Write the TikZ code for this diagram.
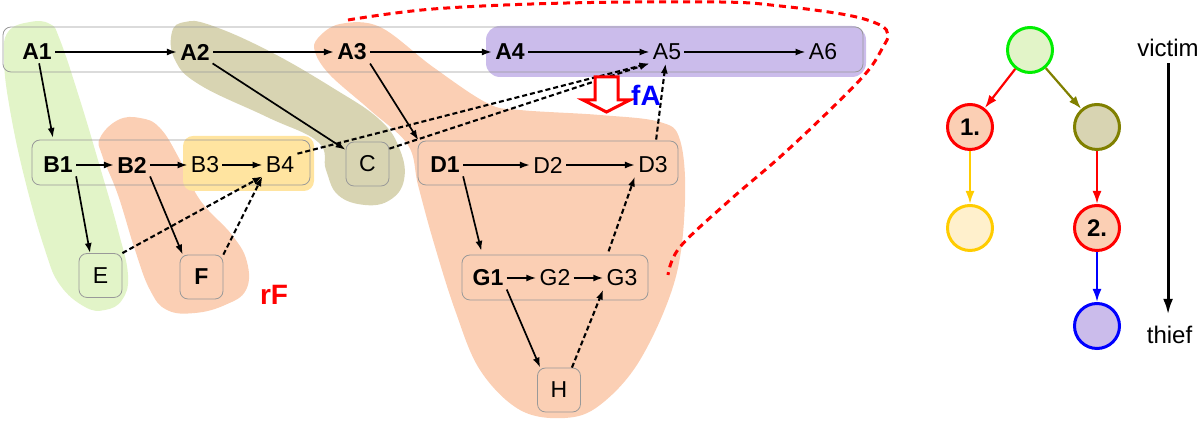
\documentclass[tikz,border=0pt]{standalone}
\usepackage{fontspec}
\setmainfont{Liberation Sans}
\usetikzlibrary{arrows.meta, positioning}

\definecolor{blobgreen}{HTML}{E2F4C8}
\definecolor{blobolive}{HTML}{D8D4B2}
\definecolor{blobsalmon}{HTML}{FBCFB4}
\definecolor{blobyellow}{HTML}{FFE4A0}
\definecolor{blobpurple}{HTML}{CBBCEB}
\definecolor{nodeyellow}{HTML}{FFF0CC}
\definecolor{strokegreen}{HTML}{00EE00}
\definecolor{strokeolive}{HTML}{808000}
\definecolor{strokeyellow}{HTML}{FFCC00}

\begin{document}
\begin{tikzpicture}[
    x=0.5pt, y=-0.5pt,
    lbl/.style={inner sep=1.5pt, font=\fontsize{11.5}{13}\selectfont},
    blbl/.style={lbl, font=\fontsize{11.5}{13}\selectfont\bfseries},
    rowbox/.style={draw=black!40, line width=0.4pt, rounded corners=4pt, inner sep=0pt},
    leafbox/.style={rowbox, minimum width=21.5pt, minimum height=22pt, font=\fontsize{11.5}{13}\selectfont},
    conn/.style={-{Latex[length=5pt,width=3.5pt]}, line width=0.85pt},
    dconn/.style={conn, line width=1.05pt, dash pattern=on 2.5pt off 1.5pt},
    tnode/.style={circle, line width=1.5pt, minimum size=22.5pt, inner sep=0pt, font=\fontsize{12}{14}\selectfont\bfseries},
    tconn/.style={-{Latex[length=6.5pt,width=4.5pt]}, line width=1.1pt},
    side/.style={inner sep=1.5pt, font=\fontsize{12}{14}\selectfont}
]
    \useasboundingbox (0,0) rectangle (1200,431);

    % Groups
    \fill[blobgreen] plot[smooth cycle, tension=0.7] coordinates {(8,32) (30,22) (50,24) (60,40) (80,100) (100,167) (118,230) (128,275) (122,300) (105,310) (85,307) (60,285) (45,250) (25,180) (10,110) (4,60)};
    \fill[blobolive] plot[smooth cycle, tension=0.7] coordinates {(172,32) (185,22) (210,25) (267,50) (333,88) (380,120) (400,150) (404,180) (390,200) (365,205) (338,195) (326,170) (318,142) (267,117) (200,85) (175,60)};
    \fill[blobsalmon] plot[smooth cycle, tension=0.7] coordinates {(100,138) (118,120) (140,118) (160,128) (180,160) (200,200) (232,235) (247,262) (246,290) (225,305) (195,313) (167,310) (150,290) (135,250) (118,195) (102,155)};
    \fill[blobsalmon] plot[smooth cycle, tension=0.6] coordinates {(318,38) (340,24) (380,27) (433,67) (487,103) (520,110) (600,115) (660,122) (680,140) (685,200) (675,280) (640,360) (600,405) (565,418) (520,410) (480,370) (455,310) (433,240) (418,185) (408,145) (370,110) (330,75) (315,52)};
    \fill[blobpurple, rounded corners=7pt] (486,26) rectangle (866,77);
    \fill[blobyellow, rounded corners=5pt] (183,136) rectangle (314,191);

    % Rows
    \node[rowbox, minimum width=430pt, minimum height=22.5pt] (rowA) at (433,49.5) {};
    \node[rowbox, minimum width=139pt, minimum height=22.5pt] (rowB) at (171,162.5) {};
    \node[rowbox, minimum width=130pt, minimum height=22pt] (rowD) at (548,163) {};
    \node[rowbox, minimum width=93pt, minimum height=22.5pt] (rowG) at (555,277.5) {};

    % Row A
    \node[blbl] (A1) at (37,52) {A1};
    \node[blbl] (A2) at (195,52) {A2};
    \node[blbl] (A3) at (352,52) {A3};
    \node[blbl] (A4) at (510,52) {A4};
    \node[lbl] (A5) at (667,52) {A5};
    \node[lbl] (A6) at (823,52) {A6};

    % Row B
    \node[blbl] (B1) at (58,165) {B1};
    \node[blbl] (B2) at (132,165) {B2};
    \node[lbl] (B3) at (205,165) {B3};
    \node[lbl] (B4) at (280,165) {B4};

    % Row D and G
    \node[blbl] (D1) at (445,165) {D1};
    \node[lbl] (D2) at (548,165) {D2};
    \node[lbl] (D3) at (653,165) {D3};
    \node[blbl] (G1) at (488,278) {G1};
    \node[lbl] (G2) at (555,278) {G2};
    \node[lbl] (G3) at (622,278) {G3};

    % Single boxes
    \node[leafbox] (C) at (367.5,164) {C};
    \node[leafbox] (E) at (100.5,275.5) {E};
    \node[leafbox, font=\fontsize{11.5}{13}\selectfont\bfseries] (F) at (201.5,277) {F};
    \node[leafbox] (H) at (559,390) {H};

    % Calls
    \draw[conn] (A1) -- (A2);
    \draw[conn] (A2) -- (A3);
    \draw[conn] (A3) -- (A4);
    \draw[conn] (A4) -- (A5);
    \draw[conn] (A5) -- (A6);
    \draw[conn, shorten >=8pt] (A1) -- (B1);
    \draw[conn] (A2) -- (C);
    \draw[conn, shorten >=8pt] (A3.south east) -- (D1.north west);
    \draw[conn] (B1) -- (B2);
    \draw[conn] (B2) -- (B3);
    \draw[conn] (B3) -- (B4);
    \draw[conn] (B1.south east) -- (E.115);
    \draw[conn] (B2.south east) -- (F.130);
    \draw[conn] (D1) -- (D2);
    \draw[conn] (D2) -- (D3);
    \draw[conn, shorten >=8pt] (D1.south east) -- (G1);
    \draw[conn] (G1) -- (G2);
    \draw[conn] (G2) -- (G3);
    \draw[conn] (G1.south east) -- (H.130);

    % Returns
    \draw[dconn] (E.north east) -- (B4.south west);
    \draw[dconn] (F.north east) -- (B4.south west);
    \draw[dconn] (B4.north east) -- (A5.south west);
    \draw[dconn] (C.35) -- (A5.south west);
    \draw[dconn, shorten <=7pt] (D3) -- (A5);
    \draw[dconn, shorten <=8pt] (G3.north west) -- (D3.south west);
    \draw[dconn] (H.60) -- (G3.south west);

    % Boundary
    \draw[red, line width=1.5pt, dash pattern=on 3.5pt off 2.5pt] plot[smooth, tension=0.6] coordinates {(348,20) (433,9) (567,3) (720,2) (780,6) (847,15) (880,25) (888,35) (883,47) (867,72) (830,110) (780,157) (730,200) (680,247) (668,275)};

    % fA marker
    \draw[red, line width=1.5pt, fill=white, line join=miter] (595,77) -- (618,77) -- (618,100) -- (630,100) -- (606.5,112) -- (583,100) -- (595,100) -- cycle;
    \node[font=\fontsize{14}{16}\selectfont\bfseries, text=blue, inner sep=0pt] (fA) at (646,95) {fA};
    \node[font=\fontsize{14}{16}\selectfont\bfseries, text=red, inner sep=0pt] (rF) at (274,295) {rF};

    % Tree
    \node[tnode, draw=strokegreen, fill=blobgreen] (root) at (1030,50) {};
    \node[tnode, draw=red, fill=blobsalmon] (n1) at (970,127) {1.};
    \node[tnode, draw=strokeolive, fill=blobolive] (nO) at (1097,127) {};
    \node[tnode, draw=strokeyellow, fill=nodeyellow] (nY) at (970,228) {};
    \node[tnode, draw=red, fill=blobsalmon] (n2) at (1097,228) {2.};
    \node[tnode, draw=blue, fill=blobpurple] (nB) at (1097,326) {};

    \draw[tconn, red] (root) -- (n1);
    \draw[tconn, strokeolive] (root) -- (nO);
    \draw[tconn, strokeyellow] (n1) -- (nY);
    \draw[tconn, red] (nO) -- (n2);
    \draw[tconn, blue] (n2) -- (nB);

    % Direction
    \node[side, anchor=west] (victim) at (1134,48) {victim};
    \node[side] (thief) at (1169.5,335) {thief};
    \draw[line width=1.5pt, -{Latex[length=8pt,width=5pt]}, shorten <=1.5pt, shorten >=4pt] (victim.south) -- (victim.south |- thief.north);
\end{tikzpicture}
\end{document}
